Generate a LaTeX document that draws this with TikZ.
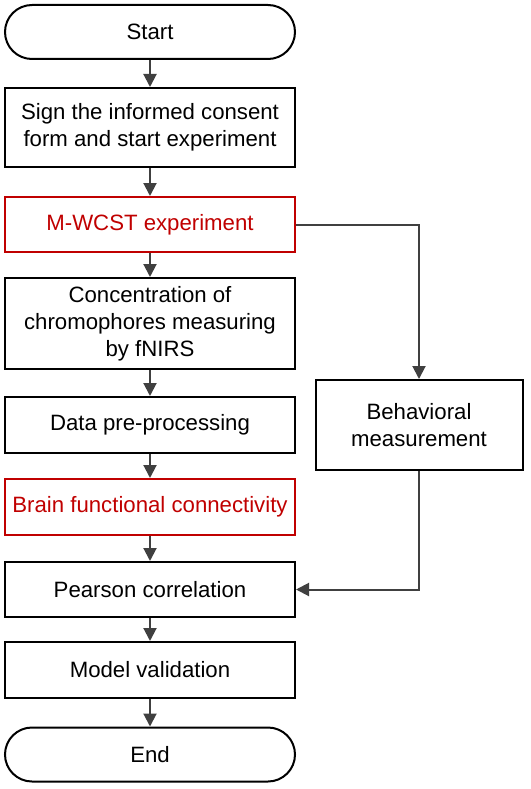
\documentclass[tikz,border=0pt]{standalone}
\usepackage{fontspec}
\setmainfont{Liberation Sans}
\usetikzlibrary{arrows.meta,positioning}
\definecolor{stepred}{HTML}{C00000}
\definecolor{linegray}{HTML}{404040}

\begin{document}
\begin{tikzpicture}[x=1pt,y=1pt,>={Triangle[length=13pt,width=13pt]},on grid,
  every node/.style={font=\fontsize{22.2}{27}\selectfont,align=center,line width=2pt},
  procbox/.style={draw=black,minimum width=290pt},
  redbox/.style={procbox,draw=stepred,text=stepred},
  termbox/.style={draw=black,minimum width=290pt,minimum height=54pt,rounded corners=27pt},
  flow/.style={->,draw=linegray,line width=2pt}]
  \useasboundingbox (0,0) rectangle (530,-789);
  \node[termbox]                          (start)   at (150,-32) {Start};
  \node[procbox,minimum height=79pt]      (consent) [below=95.5pt of start]  {Sign the informed consent\\form and start experiment};
  \node[redbox,minimum height=55pt]       (wcst)    [below=97pt of consent]  {M-WCST experiment};
  \node[procbox,minimum height=91pt]      (fnirs)   [below=99pt of wcst]     {Concentration of\\chromophores measuring\\by fNIRS};
  \node[procbox,minimum height=56pt]      (prep)    [below=101.5pt of fnirs] {Data pre-processing};
  \node[redbox,minimum height=56pt]       (brain)   [below=82pt of prep]     {Brain functional connectivity};
  \node[procbox,minimum height=55pt]      (pearson) [below=82.5pt of brain]  {Pearson correlation};
  \node[procbox,minimum height=56pt]      (model)   [below=80.5pt of pearson]{Model validation};
  \node[termbox]                          (end)     [below=84.5pt of model]  {End};
  \node[draw=black,minimum width=207pt,minimum height=90pt] (behav) [right=269pt of prep] {Behavioral\\measurement};
  % main column
  \draw[flow] (start) -- (consent);
  \draw[flow] (consent) -- (wcst);
  \draw[flow] (wcst) -- (fnirs);
  \draw[flow] (fnirs) -- (prep);
  \draw[flow] (prep) -- (brain);
  \draw[flow] (brain) -- (pearson);
  \draw[flow] (pearson) -- (model);
  \draw[flow] (model) -- (end);
  % side branch
  \draw[flow] (wcst.east) -| (behav.north);
  \draw[flow] (behav.south) |- (pearson.east);
\end{tikzpicture}
\end{document}
